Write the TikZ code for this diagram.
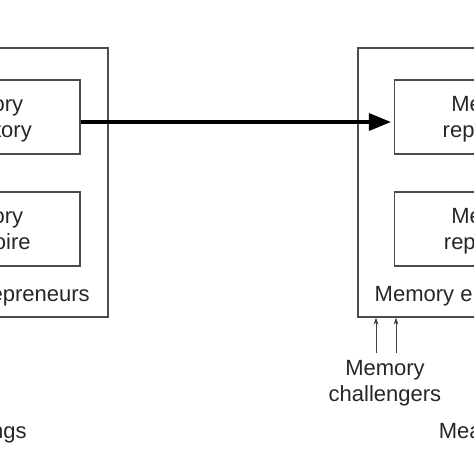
\documentclass[tikz,border=0pt]{standalone}
\usepackage{fontspec}
\setmainfont{Liberation Sans}
\usetikzlibrary{arrows.meta}
\begin{document}
\begin{tikzpicture}[x=1pt,y=-1pt,
  every node/.style={font=\fontsize{22}{26}\selectfont, text=black!85},
  outerbox/.style={draw=black!70, line width=1.1pt, minimum width=257.5pt, minimum height=269pt, inner sep=0pt},
  innerbox/.style={draw=black!70, line width=1.1pt, minimum width=193pt, minimum height=74pt, inner sep=0pt},
  boxtext/.style={align=center, inner sep=0pt, yshift=-2.5pt},
  lbl/.style={anchor=base, inner sep=0pt},
  bigarrow/.style={line width=3.2pt, -{Triangle[length=22pt,width=17pt]}},
  smallarrow/.style={line width=0.8pt, draw=black!75, -{Stealth[length=7pt,width=4.5pt]}}]
\useasboundingbox (0,0) rectangle (474,474);
\clip (0,0) rectangle (474,474);
% left panel
\node[outerbox] (lout) at (-20.75,182.5) {};
\node[innerbox] (lin1) at (-16.5,117) {};
\node[boxtext] (lt1) at (lin1.center) {Memory\\repository};
\node[innerbox] (lin2) at (-16.5,229) {};
\node[boxtext] (lt2) at (lin2.center) {Memory\\repertoire};
\node[lbl] (lent) at (-21.5,301) {Memory entrepreneurs};
\node (lmean) at (-21,433) {Meanings};
% right panel
\node[outerbox] (rout) at (486.75,182.5) {};
\node[innerbox] (rin1) at (491,117) {};
\node[boxtext] (rt1) at (rin1.center) {Memory\\repository};
\node[innerbox] (rin2) at (491,229) {};
\node[boxtext] (rt2) at (rin2.center) {Memory\\repertoire};
\node[lbl] (rent) at (486,301) {Memory entrepreneurs};
\node (rmean) at (486.5,433) {Meanings};
\node[align=center, inner sep=0pt] (chal) at (385,383.5) {Memory\\challengers};
\coordinate (c1) at (376,353);
\coordinate (c2) at (396,353);
\draw[smallarrow] (c1) -- (c1 |- rout.south);
\draw[smallarrow] (c2) -- (c2 |- rout.south);
% main arrow
\draw[bigarrow] ([yshift=-5pt]lin1.east) -- ([yshift=-5pt,xshift=-3pt]rin1.west);
\end{tikzpicture}
\end{document}
